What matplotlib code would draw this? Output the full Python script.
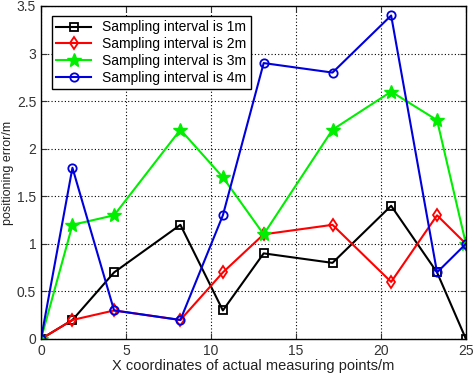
import matplotlib
matplotlib.use("Agg")
import matplotlib.pyplot as plt

plt.rcParams['font.family'] = ['Liberation Sans', 'DejaVu Sans']

x = [0, 1.85, 4.3, 8.2, 10.7, 13.1, 17.15, 20.6, 23.3, 25]
err_1m = [0, 0.2, 0.7, 1.2, 0.3, 0.9, 0.8, 1.4, 0.7, 0.0]
err_2m = [0, 0.2, 0.3, 0.2, 0.7, 1.1, 1.2, 0.6, 1.3, 1.0]
err_3m = [0, 1.2, 1.3, 2.2, 1.7, 1.1, 2.2, 2.6, 2.3, 1.0]
err_4m = [0, 1.8, 0.3, 0.2, 1.3, 2.9, 2.8, 3.4, 0.7, 1.0]
labels = ['Sampling interval is 1m', 'Sampling interval is 2m',
          'Sampling interval is 3m', 'Sampling interval is 4m']

fig = plt.figure(figsize=(4.74, 3.74), dpi=100)
ax = fig.add_axes([0.0865, 0.0936, 0.8965, 0.8904])

ax.plot(x, err_1m, color='black', marker='s', mfc='none', ms=6, mew=1.3, lw=1.5, label=labels[0])
ax.plot(x, err_2m, color='red', marker='d', mfc='none', ms=6, mew=1.3, lw=1.5, label=labels[1])
ax.plot(x, err_3m, color='#00ee00', marker='*', ms=10, lw=1.5, label=labels[2])
ax.plot(x, err_4m, color='#0000dd', marker='o', mfc='none', ms=6, mew=1.3, lw=1.5, label=labels[3])

ax.set_xlim(0, 25)
ax.set_ylim(0, 3.5)
ax.set_xticks([0, 5, 10, 15, 20, 25])
ax.set_yticks([0, 0.5, 1, 1.5, 2, 2.5, 3, 3.5])
ax.set_yticklabels(['0', '0.5', '1', '1.5', '2', '2.5', '3', '3.5'])
ax.grid(True, color='black', linestyle=(0, (1, 2)), linewidth=0.8)
ax.tick_params(direction='in', top=True, right=True, labelsize=10, colors='#333333', length=4)
for s in ax.spines.values():
    s.set_linewidth(1.0)
ax.set_xlabel('X coordinates of actual measuring points/m', fontsize=10.5, labelpad=1, color='#222222')
ax.set_ylabel('positioning error/m', fontsize=9, labelpad=2, color='#222222')

leg = ax.legend(loc='upper left', fontsize=10, fancybox=False, framealpha=1,
                edgecolor='black', borderpad=0.3, labelspacing=0.2, handlelength=2.5,
                bbox_to_anchor=(0.01, 0.99))
leg.get_frame().set_linewidth(1.0)

fig.savefig('out.png', dpi=100)
